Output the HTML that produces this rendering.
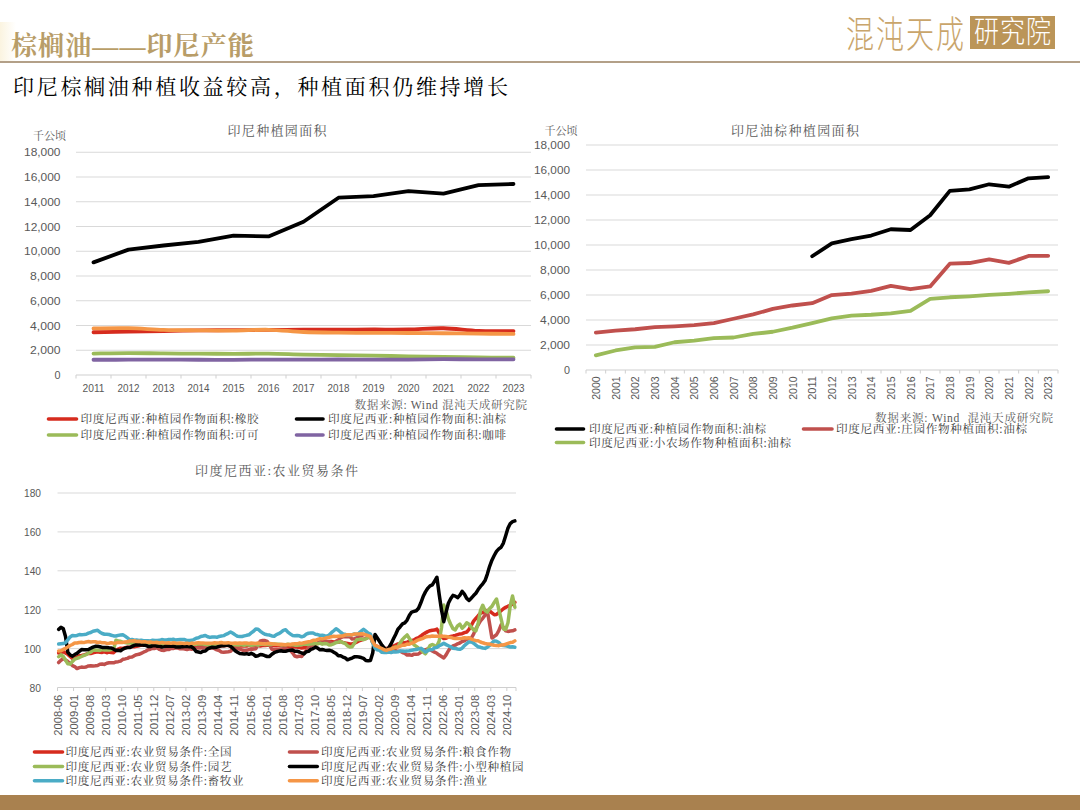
<!DOCTYPE html>
<html lang="zh-CN"><head><meta charset="utf-8"><title>棕榈油——印尼产能</title>
<style>
html,body{margin:0;padding:0;background:#fff;}
body{width:1080px;height:810px;position:relative;overflow:hidden;font-family:"Liberation Serif","Noto Serif CJK SC",serif;}
.hd{position:absolute;left:0;top:22px;width:16px;height:39px;background:linear-gradient(90deg,#fbf4e0 0,#ffffff 16px);}
.title{position:absolute;left:11px;top:30px;font-size:26px;line-height:34px;font-weight:700;color:#b89d68;letter-spacing:1.1px;white-space:nowrap;}
.rule{position:absolute;left:0;top:60.5px;width:1080px;height:2.4px;background:#b3a088;}
.sub{position:absolute;left:13px;top:71.5px;font-size:21px;line-height:30px;color:#000;letter-spacing:2.7px;white-space:nowrap;}
.logo1{position:absolute;left:846px;top:15.5px;width:120px;height:40px;font-size:28px;line-height:40px;color:#c9a56b;font-weight:300;letter-spacing:2px;white-space:nowrap;transform:scaleY(1.32);font-family:"Liberation Sans","Noto Sans CJK SC",sans-serif;transform-origin:50% 50%;}
.logo2{position:absolute;left:970px;top:15.5px;width:85px;height:33.5px;background:#bb9558;color:#fff;font-size:25px;line-height:33px;text-align:center;font-weight:300;letter-spacing:1px;white-space:nowrap;font-family:"Liberation Sans","Noto Sans CJK SC",sans-serif;}
.logo2 span{display:inline-block;transform:scaleY(1.18);transform-origin:50% 52%;margin-left:1px;}
.ft{position:absolute;left:0;top:795px;width:1080px;height:15px;background:#a9814f;}
svg{position:absolute;left:0;top:0;}
</style></head><body>
<div class="hd"></div>
<div class="title">棕榈油——印尼产能</div>
<div class="rule"></div>
<div class="sub">印尼棕榈油种植收益较高，种植面积仍维持增长</div>
<div class="logo1">混沌天成</div>
<div class="logo2"><span>研究院</span></div>
<svg width="1080" height="810" viewBox="0 0 1080 810">
<line x1="76" y1="350.25" x2="531" y2="350.25" stroke="#d9d9d9" stroke-width="1"/>
<line x1="76" y1="325.5" x2="531" y2="325.5" stroke="#d9d9d9" stroke-width="1"/>
<line x1="76" y1="300.75" x2="531" y2="300.75" stroke="#d9d9d9" stroke-width="1"/>
<line x1="76" y1="276.0" x2="531" y2="276.0" stroke="#d9d9d9" stroke-width="1"/>
<line x1="76" y1="251.25" x2="531" y2="251.25" stroke="#d9d9d9" stroke-width="1"/>
<line x1="76" y1="226.5" x2="531" y2="226.5" stroke="#d9d9d9" stroke-width="1"/>
<line x1="76" y1="201.75" x2="531" y2="201.75" stroke="#d9d9d9" stroke-width="1"/>
<line x1="76" y1="177.0" x2="531" y2="177.0" stroke="#d9d9d9" stroke-width="1"/>
<line x1="76" y1="152.25" x2="531" y2="152.25" stroke="#d9d9d9" stroke-width="1"/>
<line x1="76" y1="375" x2="531" y2="375" stroke="#cfcfcf" stroke-width="1"/>
<line x1="76.0" y1="375" x2="76.0" y2="378.5" stroke="#cfcfcf" stroke-width="1"/>
<line x1="111.0" y1="375" x2="111.0" y2="378.5" stroke="#cfcfcf" stroke-width="1"/>
<line x1="146.0" y1="375" x2="146.0" y2="378.5" stroke="#cfcfcf" stroke-width="1"/>
<line x1="181.0" y1="375" x2="181.0" y2="378.5" stroke="#cfcfcf" stroke-width="1"/>
<line x1="216.0" y1="375" x2="216.0" y2="378.5" stroke="#cfcfcf" stroke-width="1"/>
<line x1="251.0" y1="375" x2="251.0" y2="378.5" stroke="#cfcfcf" stroke-width="1"/>
<line x1="286.0" y1="375" x2="286.0" y2="378.5" stroke="#cfcfcf" stroke-width="1"/>
<line x1="321.0" y1="375" x2="321.0" y2="378.5" stroke="#cfcfcf" stroke-width="1"/>
<line x1="356.0" y1="375" x2="356.0" y2="378.5" stroke="#cfcfcf" stroke-width="1"/>
<line x1="391.0" y1="375" x2="391.0" y2="378.5" stroke="#cfcfcf" stroke-width="1"/>
<line x1="426.0" y1="375" x2="426.0" y2="378.5" stroke="#cfcfcf" stroke-width="1"/>
<line x1="461.0" y1="375" x2="461.0" y2="378.5" stroke="#cfcfcf" stroke-width="1"/>
<line x1="496.0" y1="375" x2="496.0" y2="378.5" stroke="#cfcfcf" stroke-width="1"/>
<line x1="531.0" y1="375" x2="531.0" y2="378.5" stroke="#cfcfcf" stroke-width="1"/>
<text x="60.5" y="379.0" font-size="11" text-anchor="end" font-family='"Liberation Sans","Noto Sans CJK SC",sans-serif' fill="#595959" textLength="6" lengthAdjust="spacingAndGlyphs">0</text>
<text x="60.5" y="354.25" font-size="11" text-anchor="end" font-family='"Liberation Sans","Noto Sans CJK SC",sans-serif' fill="#595959" textLength="30.5" lengthAdjust="spacingAndGlyphs">2,000</text>
<text x="60.5" y="329.5" font-size="11" text-anchor="end" font-family='"Liberation Sans","Noto Sans CJK SC",sans-serif' fill="#595959" textLength="30.5" lengthAdjust="spacingAndGlyphs">4,000</text>
<text x="60.5" y="304.75" font-size="11" text-anchor="end" font-family='"Liberation Sans","Noto Sans CJK SC",sans-serif' fill="#595959" textLength="30.5" lengthAdjust="spacingAndGlyphs">6,000</text>
<text x="60.5" y="280.0" font-size="11" text-anchor="end" font-family='"Liberation Sans","Noto Sans CJK SC",sans-serif' fill="#595959" textLength="30.5" lengthAdjust="spacingAndGlyphs">8,000</text>
<text x="60.5" y="255.25" font-size="11" text-anchor="end" font-family='"Liberation Sans","Noto Sans CJK SC",sans-serif' fill="#595959" textLength="36.5" lengthAdjust="spacingAndGlyphs">10,000</text>
<text x="60.5" y="230.5" font-size="11" text-anchor="end" font-family='"Liberation Sans","Noto Sans CJK SC",sans-serif' fill="#595959" textLength="36.5" lengthAdjust="spacingAndGlyphs">12,000</text>
<text x="60.5" y="205.75" font-size="11" text-anchor="end" font-family='"Liberation Sans","Noto Sans CJK SC",sans-serif' fill="#595959" textLength="36.5" lengthAdjust="spacingAndGlyphs">14,000</text>
<text x="60.5" y="181.0" font-size="11" text-anchor="end" font-family='"Liberation Sans","Noto Sans CJK SC",sans-serif' fill="#595959" textLength="36.5" lengthAdjust="spacingAndGlyphs">16,000</text>
<text x="60.5" y="156.25" font-size="11" text-anchor="end" font-family='"Liberation Sans","Noto Sans CJK SC",sans-serif' fill="#595959" textLength="36.5" lengthAdjust="spacingAndGlyphs">18,000</text>
<text x="93.5" y="392" font-size="11" text-anchor="middle" font-family='"Liberation Sans","Noto Sans CJK SC",sans-serif' fill="#595959" textLength="22" lengthAdjust="spacingAndGlyphs">2011</text>
<text x="128.5" y="392" font-size="11" text-anchor="middle" font-family='"Liberation Sans","Noto Sans CJK SC",sans-serif' fill="#595959" textLength="22" lengthAdjust="spacingAndGlyphs">2012</text>
<text x="163.5" y="392" font-size="11" text-anchor="middle" font-family='"Liberation Sans","Noto Sans CJK SC",sans-serif' fill="#595959" textLength="22" lengthAdjust="spacingAndGlyphs">2013</text>
<text x="198.5" y="392" font-size="11" text-anchor="middle" font-family='"Liberation Sans","Noto Sans CJK SC",sans-serif' fill="#595959" textLength="22" lengthAdjust="spacingAndGlyphs">2014</text>
<text x="233.5" y="392" font-size="11" text-anchor="middle" font-family='"Liberation Sans","Noto Sans CJK SC",sans-serif' fill="#595959" textLength="22" lengthAdjust="spacingAndGlyphs">2015</text>
<text x="268.5" y="392" font-size="11" text-anchor="middle" font-family='"Liberation Sans","Noto Sans CJK SC",sans-serif' fill="#595959" textLength="22" lengthAdjust="spacingAndGlyphs">2016</text>
<text x="303.5" y="392" font-size="11" text-anchor="middle" font-family='"Liberation Sans","Noto Sans CJK SC",sans-serif' fill="#595959" textLength="22" lengthAdjust="spacingAndGlyphs">2017</text>
<text x="338.5" y="392" font-size="11" text-anchor="middle" font-family='"Liberation Sans","Noto Sans CJK SC",sans-serif' fill="#595959" textLength="22" lengthAdjust="spacingAndGlyphs">2018</text>
<text x="373.5" y="392" font-size="11" text-anchor="middle" font-family='"Liberation Sans","Noto Sans CJK SC",sans-serif' fill="#595959" textLength="22" lengthAdjust="spacingAndGlyphs">2019</text>
<text x="408.5" y="392" font-size="11" text-anchor="middle" font-family='"Liberation Sans","Noto Sans CJK SC",sans-serif' fill="#595959" textLength="22" lengthAdjust="spacingAndGlyphs">2020</text>
<text x="443.5" y="392" font-size="11" text-anchor="middle" font-family='"Liberation Sans","Noto Sans CJK SC",sans-serif' fill="#595959" textLength="22" lengthAdjust="spacingAndGlyphs">2021</text>
<text x="478.5" y="392" font-size="11" text-anchor="middle" font-family='"Liberation Sans","Noto Sans CJK SC",sans-serif' fill="#595959" textLength="22" lengthAdjust="spacingAndGlyphs">2022</text>
<text x="513.5" y="392" font-size="11" text-anchor="middle" font-family='"Liberation Sans","Noto Sans CJK SC",sans-serif' fill="#595959" textLength="22" lengthAdjust="spacingAndGlyphs">2023</text>
<text x="33" y="140" font-size="11" text-anchor="start" font-family='"Liberation Serif","Noto Serif CJK SC",serif' fill="#595959" textLength="33" lengthAdjust="spacing">千公顷</text>
<text x="227.5" y="134.5" font-size="13" text-anchor="start" font-family='"Liberation Serif","Noto Serif CJK SC",serif' fill="#595959" textLength="99" lengthAdjust="spacing">印尼种植园面积</text>
<path d="M93.50,332.23 C99.33,332.13 116.83,331.82 128.50,331.61 C140.17,331.41 151.83,331.20 163.50,330.99 C175.17,330.79 186.83,330.51 198.50,330.38 C210.17,330.24 221.83,330.26 233.50,330.19 C245.17,330.12 256.83,330.05 268.50,329.97 C280.17,329.89 291.83,329.79 303.50,329.72 C315.17,329.65 326.83,329.61 338.50,329.57 C350.17,329.54 361.83,329.53 373.50,329.51 C385.17,329.49 396.83,329.65 408.50,329.45 C420.17,329.24 431.83,328.02 443.50,328.27 C455.17,328.52 466.83,330.48 478.50,330.94 C490.17,331.41 507.67,331.05 513.50,331.07" fill="none" stroke="#d62b1e" stroke-width="3.8" stroke-linecap="round" stroke-linejoin="round"/>
<polyline points="93.50,262.36 128.50,249.60 163.50,245.50 198.50,241.91 233.50,235.66 268.50,236.39 303.50,221.76 338.50,197.72 373.50,196.11 408.50,191.13 443.50,193.55 478.50,185.19 513.50,183.99" fill="none" stroke="#000" stroke-width="3.8" stroke-linecap="round" stroke-linejoin="round"/>
<path d="M93.50,353.55 C99.33,353.47 116.83,353.06 128.50,353.05 C140.17,353.03 151.83,353.36 163.50,353.46 C175.17,353.55 186.83,353.56 198.50,353.63 C210.17,353.69 221.83,353.84 233.50,353.85 C245.17,353.86 256.83,353.59 268.50,353.70 C280.17,353.82 291.83,354.32 303.50,354.54 C315.17,354.77 326.83,354.87 338.50,355.06 C350.17,355.25 361.83,355.47 373.50,355.68 C385.17,355.89 396.83,356.12 408.50,356.33 C420.17,356.53 431.83,356.74 443.50,356.92 C455.17,357.10 466.83,357.28 478.50,357.42 C490.17,357.55 507.67,357.69 513.50,357.75" fill="none" stroke="#9bbb59" stroke-width="3.8" stroke-linecap="round" stroke-linejoin="round"/>
<path d="M93.50,359.73 C99.33,359.73 116.83,359.73 128.50,359.72 C140.17,359.70 151.83,359.62 163.50,359.63 C175.17,359.64 186.83,359.74 198.50,359.77 C210.17,359.79 221.83,359.81 233.50,359.78 C245.17,359.75 256.83,359.59 268.50,359.57 C280.17,359.55 291.83,359.68 303.50,359.67 C315.17,359.65 326.83,359.51 338.50,359.49 C350.17,359.48 361.83,359.59 373.50,359.59 C385.17,359.60 396.83,359.60 408.50,359.53 C420.17,359.46 431.83,359.21 443.50,359.17 C455.17,359.14 466.83,359.31 478.50,359.33 C490.17,359.36 507.67,359.31 513.50,359.31" fill="none" stroke="#8064a2" stroke-width="3.8" stroke-linecap="round" stroke-linejoin="round"/>
<path d="M93.50,328.37 C99.33,328.34 116.83,327.96 128.50,328.20 C140.17,328.43 151.83,329.43 163.50,329.78 C175.17,330.14 186.83,330.19 198.50,330.33 C210.17,330.47 221.83,330.71 233.50,330.62 C245.17,330.53 256.83,329.56 268.50,329.79 C280.17,330.03 291.83,331.53 303.50,332.02 C315.17,332.51 326.83,332.57 338.50,332.71 C350.17,332.86 361.83,332.86 373.50,332.91 C385.17,332.96 396.83,332.97 408.50,333.02 C420.17,333.08 431.83,333.14 443.50,333.25 C455.17,333.35 466.83,333.56 478.50,333.67 C490.17,333.78 507.67,333.87 513.50,333.92" fill="none" stroke="#f59646" stroke-width="3.8" stroke-linecap="round" stroke-linejoin="round"/>
<text x="527" y="408.7" font-size="11.6" text-anchor="end" font-family='"Liberation Serif","Noto Serif CJK SC",serif' fill="#595959" textLength="172.5" lengthAdjust="spacing" xml:space="preserve">数据来源: Wind 混沌天成研究院</text>
<line x1="48.5" y1="419" x2="76.5" y2="419" stroke="#d62b1e" stroke-width="3.6" stroke-linecap="round"/>
<text x="80.5" y="423.1" font-size="11.6" text-anchor="start" font-family='"Liberation Serif","Noto Serif CJK SC",serif' fill="#404040" textLength="178" lengthAdjust="spacing">印度尼西亚:种植园作物面积:橡胶</text>
<line x1="48.5" y1="435" x2="76.5" y2="435" stroke="#9bbb59" stroke-width="3.6" stroke-linecap="round"/>
<text x="80.5" y="439.1" font-size="11.6" text-anchor="start" font-family='"Liberation Serif","Noto Serif CJK SC",serif' fill="#404040" textLength="178" lengthAdjust="spacing">印度尼西亚:种植园作物面积:可可</text>
<line x1="296.5" y1="419" x2="323.0" y2="419" stroke="#000" stroke-width="3.6" stroke-linecap="round"/>
<text x="328" y="423.1" font-size="11.6" text-anchor="start" font-family='"Liberation Serif","Noto Serif CJK SC",serif' fill="#404040" textLength="178" lengthAdjust="spacing">印度尼西亚:种植园作物面积:油棕</text>
<line x1="296.5" y1="435" x2="323.0" y2="435" stroke="#8064a2" stroke-width="3.6" stroke-linecap="round"/>
<text x="328" y="439.1" font-size="11.6" text-anchor="start" font-family='"Liberation Serif","Noto Serif CJK SC",serif' fill="#404040" textLength="178" lengthAdjust="spacing">印度尼西亚:种植园作物面积:咖啡</text>
<line x1="586" y1="345.0" x2="1058" y2="345.0" stroke="#d9d9d9" stroke-width="1"/>
<line x1="586" y1="320.0" x2="1058" y2="320.0" stroke="#d9d9d9" stroke-width="1"/>
<line x1="586" y1="295.0" x2="1058" y2="295.0" stroke="#d9d9d9" stroke-width="1"/>
<line x1="586" y1="270.0" x2="1058" y2="270.0" stroke="#d9d9d9" stroke-width="1"/>
<line x1="586" y1="245.0" x2="1058" y2="245.0" stroke="#d9d9d9" stroke-width="1"/>
<line x1="586" y1="220.0" x2="1058" y2="220.0" stroke="#d9d9d9" stroke-width="1"/>
<line x1="586" y1="195.0" x2="1058" y2="195.0" stroke="#d9d9d9" stroke-width="1"/>
<line x1="586" y1="170.0" x2="1058" y2="170.0" stroke="#d9d9d9" stroke-width="1"/>
<line x1="586" y1="145.0" x2="1058" y2="145.0" stroke="#d9d9d9" stroke-width="1"/>
<line x1="586" y1="370" x2="1058" y2="370" stroke="#cfcfcf" stroke-width="1"/>
<line x1="586.0" y1="370" x2="586.0" y2="373.5" stroke="#cfcfcf" stroke-width="1"/>
<line x1="605.6666666666666" y1="370" x2="605.6666666666666" y2="373.5" stroke="#cfcfcf" stroke-width="1"/>
<line x1="625.3333333333334" y1="370" x2="625.3333333333334" y2="373.5" stroke="#cfcfcf" stroke-width="1"/>
<line x1="645.0" y1="370" x2="645.0" y2="373.5" stroke="#cfcfcf" stroke-width="1"/>
<line x1="664.6666666666666" y1="370" x2="664.6666666666666" y2="373.5" stroke="#cfcfcf" stroke-width="1"/>
<line x1="684.3333333333334" y1="370" x2="684.3333333333334" y2="373.5" stroke="#cfcfcf" stroke-width="1"/>
<line x1="704.0" y1="370" x2="704.0" y2="373.5" stroke="#cfcfcf" stroke-width="1"/>
<line x1="723.6666666666667" y1="370" x2="723.6666666666667" y2="373.5" stroke="#cfcfcf" stroke-width="1"/>
<line x1="743.3333333333334" y1="370" x2="743.3333333333334" y2="373.5" stroke="#cfcfcf" stroke-width="1"/>
<line x1="763.0" y1="370" x2="763.0" y2="373.5" stroke="#cfcfcf" stroke-width="1"/>
<line x1="782.6666666666667" y1="370" x2="782.6666666666667" y2="373.5" stroke="#cfcfcf" stroke-width="1"/>
<line x1="802.3333333333334" y1="370" x2="802.3333333333334" y2="373.5" stroke="#cfcfcf" stroke-width="1"/>
<line x1="822.0" y1="370" x2="822.0" y2="373.5" stroke="#cfcfcf" stroke-width="1"/>
<line x1="841.6666666666667" y1="370" x2="841.6666666666667" y2="373.5" stroke="#cfcfcf" stroke-width="1"/>
<line x1="861.3333333333334" y1="370" x2="861.3333333333334" y2="373.5" stroke="#cfcfcf" stroke-width="1"/>
<line x1="881.0" y1="370" x2="881.0" y2="373.5" stroke="#cfcfcf" stroke-width="1"/>
<line x1="900.6666666666667" y1="370" x2="900.6666666666667" y2="373.5" stroke="#cfcfcf" stroke-width="1"/>
<line x1="920.3333333333334" y1="370" x2="920.3333333333334" y2="373.5" stroke="#cfcfcf" stroke-width="1"/>
<line x1="940.0" y1="370" x2="940.0" y2="373.5" stroke="#cfcfcf" stroke-width="1"/>
<line x1="959.6666666666667" y1="370" x2="959.6666666666667" y2="373.5" stroke="#cfcfcf" stroke-width="1"/>
<line x1="979.3333333333334" y1="370" x2="979.3333333333334" y2="373.5" stroke="#cfcfcf" stroke-width="1"/>
<line x1="999.0" y1="370" x2="999.0" y2="373.5" stroke="#cfcfcf" stroke-width="1"/>
<line x1="1018.6666666666667" y1="370" x2="1018.6666666666667" y2="373.5" stroke="#cfcfcf" stroke-width="1"/>
<line x1="1038.3333333333335" y1="370" x2="1038.3333333333335" y2="373.5" stroke="#cfcfcf" stroke-width="1"/>
<line x1="1058.0" y1="370" x2="1058.0" y2="373.5" stroke="#cfcfcf" stroke-width="1"/>
<text x="570" y="374.0" font-size="11" text-anchor="end" font-family='"Liberation Sans","Noto Sans CJK SC",sans-serif' fill="#595959" textLength="6" lengthAdjust="spacingAndGlyphs">0</text>
<text x="570" y="349.0" font-size="11" text-anchor="end" font-family='"Liberation Sans","Noto Sans CJK SC",sans-serif' fill="#595959" textLength="30" lengthAdjust="spacingAndGlyphs">2,000</text>
<text x="570" y="324.0" font-size="11" text-anchor="end" font-family='"Liberation Sans","Noto Sans CJK SC",sans-serif' fill="#595959" textLength="30" lengthAdjust="spacingAndGlyphs">4,000</text>
<text x="570" y="299.0" font-size="11" text-anchor="end" font-family='"Liberation Sans","Noto Sans CJK SC",sans-serif' fill="#595959" textLength="30" lengthAdjust="spacingAndGlyphs">6,000</text>
<text x="570" y="274.0" font-size="11" text-anchor="end" font-family='"Liberation Sans","Noto Sans CJK SC",sans-serif' fill="#595959" textLength="30" lengthAdjust="spacingAndGlyphs">8,000</text>
<text x="570" y="249.0" font-size="11" text-anchor="end" font-family='"Liberation Sans","Noto Sans CJK SC",sans-serif' fill="#595959" textLength="36" lengthAdjust="spacingAndGlyphs">10,000</text>
<text x="570" y="224.0" font-size="11" text-anchor="end" font-family='"Liberation Sans","Noto Sans CJK SC",sans-serif' fill="#595959" textLength="36" lengthAdjust="spacingAndGlyphs">12,000</text>
<text x="570" y="199.0" font-size="11" text-anchor="end" font-family='"Liberation Sans","Noto Sans CJK SC",sans-serif' fill="#595959" textLength="36" lengthAdjust="spacingAndGlyphs">14,000</text>
<text x="570" y="174.0" font-size="11" text-anchor="end" font-family='"Liberation Sans","Noto Sans CJK SC",sans-serif' fill="#595959" textLength="36" lengthAdjust="spacingAndGlyphs">16,000</text>
<text x="570" y="149.0" font-size="11" text-anchor="end" font-family='"Liberation Sans","Noto Sans CJK SC",sans-serif' fill="#595959" textLength="36" lengthAdjust="spacingAndGlyphs">18,000</text>
<text transform="translate(595.83,388) rotate(-90)" x="0" y="4" font-size="11" text-anchor="middle" font-family='"Liberation Sans","Noto Sans CJK SC",sans-serif' fill="#595959" textLength="23.5" lengthAdjust="spacingAndGlyphs">2000</text>
<text transform="translate(615.50,388) rotate(-90)" x="0" y="4" font-size="11" text-anchor="middle" font-family='"Liberation Sans","Noto Sans CJK SC",sans-serif' fill="#595959" textLength="23.5" lengthAdjust="spacingAndGlyphs">2001</text>
<text transform="translate(635.17,388) rotate(-90)" x="0" y="4" font-size="11" text-anchor="middle" font-family='"Liberation Sans","Noto Sans CJK SC",sans-serif' fill="#595959" textLength="23.5" lengthAdjust="spacingAndGlyphs">2002</text>
<text transform="translate(654.83,388) rotate(-90)" x="0" y="4" font-size="11" text-anchor="middle" font-family='"Liberation Sans","Noto Sans CJK SC",sans-serif' fill="#595959" textLength="23.5" lengthAdjust="spacingAndGlyphs">2003</text>
<text transform="translate(674.50,388) rotate(-90)" x="0" y="4" font-size="11" text-anchor="middle" font-family='"Liberation Sans","Noto Sans CJK SC",sans-serif' fill="#595959" textLength="23.5" lengthAdjust="spacingAndGlyphs">2004</text>
<text transform="translate(694.17,388) rotate(-90)" x="0" y="4" font-size="11" text-anchor="middle" font-family='"Liberation Sans","Noto Sans CJK SC",sans-serif' fill="#595959" textLength="23.5" lengthAdjust="spacingAndGlyphs">2005</text>
<text transform="translate(713.83,388) rotate(-90)" x="0" y="4" font-size="11" text-anchor="middle" font-family='"Liberation Sans","Noto Sans CJK SC",sans-serif' fill="#595959" textLength="23.5" lengthAdjust="spacingAndGlyphs">2006</text>
<text transform="translate(733.50,388) rotate(-90)" x="0" y="4" font-size="11" text-anchor="middle" font-family='"Liberation Sans","Noto Sans CJK SC",sans-serif' fill="#595959" textLength="23.5" lengthAdjust="spacingAndGlyphs">2007</text>
<text transform="translate(753.17,388) rotate(-90)" x="0" y="4" font-size="11" text-anchor="middle" font-family='"Liberation Sans","Noto Sans CJK SC",sans-serif' fill="#595959" textLength="23.5" lengthAdjust="spacingAndGlyphs">2008</text>
<text transform="translate(772.83,388) rotate(-90)" x="0" y="4" font-size="11" text-anchor="middle" font-family='"Liberation Sans","Noto Sans CJK SC",sans-serif' fill="#595959" textLength="23.5" lengthAdjust="spacingAndGlyphs">2009</text>
<text transform="translate(792.50,388) rotate(-90)" x="0" y="4" font-size="11" text-anchor="middle" font-family='"Liberation Sans","Noto Sans CJK SC",sans-serif' fill="#595959" textLength="23.5" lengthAdjust="spacingAndGlyphs">2010</text>
<text transform="translate(812.17,388) rotate(-90)" x="0" y="4" font-size="11" text-anchor="middle" font-family='"Liberation Sans","Noto Sans CJK SC",sans-serif' fill="#595959" textLength="23.5" lengthAdjust="spacingAndGlyphs">2011</text>
<text transform="translate(831.83,388) rotate(-90)" x="0" y="4" font-size="11" text-anchor="middle" font-family='"Liberation Sans","Noto Sans CJK SC",sans-serif' fill="#595959" textLength="23.5" lengthAdjust="spacingAndGlyphs">2012</text>
<text transform="translate(851.50,388) rotate(-90)" x="0" y="4" font-size="11" text-anchor="middle" font-family='"Liberation Sans","Noto Sans CJK SC",sans-serif' fill="#595959" textLength="23.5" lengthAdjust="spacingAndGlyphs">2013</text>
<text transform="translate(871.17,388) rotate(-90)" x="0" y="4" font-size="11" text-anchor="middle" font-family='"Liberation Sans","Noto Sans CJK SC",sans-serif' fill="#595959" textLength="23.5" lengthAdjust="spacingAndGlyphs">2014</text>
<text transform="translate(890.83,388) rotate(-90)" x="0" y="4" font-size="11" text-anchor="middle" font-family='"Liberation Sans","Noto Sans CJK SC",sans-serif' fill="#595959" textLength="23.5" lengthAdjust="spacingAndGlyphs">2015</text>
<text transform="translate(910.50,388) rotate(-90)" x="0" y="4" font-size="11" text-anchor="middle" font-family='"Liberation Sans","Noto Sans CJK SC",sans-serif' fill="#595959" textLength="23.5" lengthAdjust="spacingAndGlyphs">2016</text>
<text transform="translate(930.17,388) rotate(-90)" x="0" y="4" font-size="11" text-anchor="middle" font-family='"Liberation Sans","Noto Sans CJK SC",sans-serif' fill="#595959" textLength="23.5" lengthAdjust="spacingAndGlyphs">2017</text>
<text transform="translate(949.83,388) rotate(-90)" x="0" y="4" font-size="11" text-anchor="middle" font-family='"Liberation Sans","Noto Sans CJK SC",sans-serif' fill="#595959" textLength="23.5" lengthAdjust="spacingAndGlyphs">2018</text>
<text transform="translate(969.50,388) rotate(-90)" x="0" y="4" font-size="11" text-anchor="middle" font-family='"Liberation Sans","Noto Sans CJK SC",sans-serif' fill="#595959" textLength="23.5" lengthAdjust="spacingAndGlyphs">2019</text>
<text transform="translate(989.17,388) rotate(-90)" x="0" y="4" font-size="11" text-anchor="middle" font-family='"Liberation Sans","Noto Sans CJK SC",sans-serif' fill="#595959" textLength="23.5" lengthAdjust="spacingAndGlyphs">2020</text>
<text transform="translate(1008.83,388) rotate(-90)" x="0" y="4" font-size="11" text-anchor="middle" font-family='"Liberation Sans","Noto Sans CJK SC",sans-serif' fill="#595959" textLength="23.5" lengthAdjust="spacingAndGlyphs">2021</text>
<text transform="translate(1028.50,388) rotate(-90)" x="0" y="4" font-size="11" text-anchor="middle" font-family='"Liberation Sans","Noto Sans CJK SC",sans-serif' fill="#595959" textLength="23.5" lengthAdjust="spacingAndGlyphs">2022</text>
<text transform="translate(1048.17,388) rotate(-90)" x="0" y="4" font-size="11" text-anchor="middle" font-family='"Liberation Sans","Noto Sans CJK SC",sans-serif' fill="#595959" textLength="23.5" lengthAdjust="spacingAndGlyphs">2023</text>
<text x="544.5" y="134.5" font-size="11" text-anchor="start" font-family='"Liberation Serif","Noto Serif CJK SC",serif' fill="#595959" textLength="33" lengthAdjust="spacing">千公顷</text>
<text x="731" y="134.5" font-size="13" text-anchor="start" font-family='"Liberation Serif","Noto Serif CJK SC",serif' fill="#595959" textLength="128" lengthAdjust="spacing">印尼油棕种植园面积</text>
<polyline points="812.17,256.23 831.83,243.34 851.50,239.19 871.17,235.56 890.83,229.25 910.50,229.99 930.17,215.21 949.83,190.92 969.50,189.30 989.17,184.28 1008.83,186.71 1028.50,178.28 1048.17,177.06" fill="none" stroke="#000" stroke-width="3.8" stroke-linecap="round" stroke-linejoin="round"/>
<polyline points="595.83,332.61 615.50,330.60 635.17,329.26 654.83,327.14 674.50,326.29 694.17,325.09 713.83,323.15 733.50,318.75 753.17,314.38 772.83,308.90 792.50,305.49 812.17,303.14 831.83,295.05 851.50,293.65 871.17,290.84 890.83,285.94 910.50,289.23 930.17,286.43 949.83,263.65 969.50,263.01 989.17,259.31 1008.83,262.89 1028.50,255.95 1048.17,255.81" fill="none" stroke="#c0504d" stroke-width="3.8" stroke-linecap="round" stroke-linejoin="round"/>
<polyline points="595.83,355.41 615.50,350.49 635.17,347.40 654.83,346.82 674.50,342.25 694.17,340.54 713.83,338.12 733.50,337.50 753.17,333.98 772.83,331.74 792.50,327.66 812.17,323.10 831.83,318.29 851.50,315.55 871.17,314.73 890.83,313.31 910.50,310.76 930.17,298.79 949.83,297.27 969.50,296.29 989.17,294.96 1008.83,293.82 1028.50,292.32 1048.17,291.25" fill="none" stroke="#9bbb59" stroke-width="3.8" stroke-linecap="round" stroke-linejoin="round"/>
<text x="1053" y="421.7" font-size="11.6" text-anchor="end" font-family='"Liberation Serif","Noto Serif CJK SC",serif' fill="#595959" textLength="178" lengthAdjust="spacing" xml:space="preserve">数据来源: Wind  混沌天成研究院</text>
<line x1="556.5" y1="429" x2="583.5" y2="429" stroke="#000" stroke-width="3.6" stroke-linecap="round"/>
<text x="589" y="433.1" font-size="11.6" text-anchor="start" font-family='"Liberation Serif","Noto Serif CJK SC",serif' fill="#404040" textLength="177" lengthAdjust="spacing">印度尼西亚:种植园作物面积:油棕</text>
<line x1="556.5" y1="442.5" x2="583.5" y2="442.5" stroke="#9bbb59" stroke-width="3.6" stroke-linecap="round"/>
<text x="589" y="446.6" font-size="11.6" text-anchor="start" font-family='"Liberation Serif","Noto Serif CJK SC",serif' fill="#404040" textLength="202" lengthAdjust="spacing">印度尼西亚:小农场作物种植面积:油棕</text>
<line x1="803.5" y1="429" x2="832.0" y2="429" stroke="#c0504d" stroke-width="3.6" stroke-linecap="round"/>
<text x="836" y="433.1" font-size="11.6" text-anchor="start" font-family='"Liberation Serif","Noto Serif CJK SC",serif' fill="#404040" textLength="191" lengthAdjust="spacing">印度尼西亚:庄园作物种植面积:油棕</text>
<line x1="57.5" y1="648.6" x2="516" y2="648.6" stroke="#d9d9d9" stroke-width="1"/>
<line x1="57.5" y1="609.7" x2="516" y2="609.7" stroke="#d9d9d9" stroke-width="1"/>
<line x1="57.5" y1="570.8" x2="516" y2="570.8" stroke="#d9d9d9" stroke-width="1"/>
<line x1="57.5" y1="531.9" x2="516" y2="531.9" stroke="#d9d9d9" stroke-width="1"/>
<line x1="57.5" y1="493.0" x2="516" y2="493.0" stroke="#d9d9d9" stroke-width="1"/>
<line x1="57.5" y1="687.5" x2="516" y2="687.5" stroke="#cfcfcf" stroke-width="1"/>
<line x1="57.5" y1="687.5" x2="57.5" y2="691.0" stroke="#cfcfcf" stroke-width="1"/>
<text transform="translate(57.95,715.2) rotate(-90)" x="0" y="4" font-size="11" text-anchor="middle" font-family='"Liberation Sans","Noto Sans CJK SC",sans-serif' fill="#595959" textLength="41" lengthAdjust="spacingAndGlyphs">2008-06</text>
<line x1="73.5475" y1="687.5" x2="73.5475" y2="691.0" stroke="#cfcfcf" stroke-width="1"/>
<text transform="translate(73.99,715.2) rotate(-90)" x="0" y="4" font-size="11" text-anchor="middle" font-family='"Liberation Sans","Noto Sans CJK SC",sans-serif' fill="#595959" textLength="41" lengthAdjust="spacingAndGlyphs">2009-01</text>
<line x1="89.595" y1="687.5" x2="89.595" y2="691.0" stroke="#cfcfcf" stroke-width="1"/>
<text transform="translate(90.04,715.2) rotate(-90)" x="0" y="4" font-size="11" text-anchor="middle" font-family='"Liberation Sans","Noto Sans CJK SC",sans-serif' fill="#595959" textLength="41" lengthAdjust="spacingAndGlyphs">2009-08</text>
<line x1="105.6425" y1="687.5" x2="105.6425" y2="691.0" stroke="#cfcfcf" stroke-width="1"/>
<text transform="translate(106.09,715.2) rotate(-90)" x="0" y="4" font-size="11" text-anchor="middle" font-family='"Liberation Sans","Noto Sans CJK SC",sans-serif' fill="#595959" textLength="41" lengthAdjust="spacingAndGlyphs">2010-03</text>
<line x1="121.69" y1="687.5" x2="121.69" y2="691.0" stroke="#cfcfcf" stroke-width="1"/>
<text transform="translate(122.14,715.2) rotate(-90)" x="0" y="4" font-size="11" text-anchor="middle" font-family='"Liberation Sans","Noto Sans CJK SC",sans-serif' fill="#595959" textLength="41" lengthAdjust="spacingAndGlyphs">2010-10</text>
<line x1="137.7375" y1="687.5" x2="137.7375" y2="691.0" stroke="#cfcfcf" stroke-width="1"/>
<text transform="translate(138.18,715.2) rotate(-90)" x="0" y="4" font-size="11" text-anchor="middle" font-family='"Liberation Sans","Noto Sans CJK SC",sans-serif' fill="#595959" textLength="41" lengthAdjust="spacingAndGlyphs">2011-05</text>
<line x1="153.785" y1="687.5" x2="153.785" y2="691.0" stroke="#cfcfcf" stroke-width="1"/>
<text transform="translate(154.23,715.2) rotate(-90)" x="0" y="4" font-size="11" text-anchor="middle" font-family='"Liberation Sans","Noto Sans CJK SC",sans-serif' fill="#595959" textLength="41" lengthAdjust="spacingAndGlyphs">2011-12</text>
<line x1="169.83249999999998" y1="687.5" x2="169.83249999999998" y2="691.0" stroke="#cfcfcf" stroke-width="1"/>
<text transform="translate(170.28,715.2) rotate(-90)" x="0" y="4" font-size="11" text-anchor="middle" font-family='"Liberation Sans","Noto Sans CJK SC",sans-serif' fill="#595959" textLength="41" lengthAdjust="spacingAndGlyphs">2012-07</text>
<line x1="185.88" y1="687.5" x2="185.88" y2="691.0" stroke="#cfcfcf" stroke-width="1"/>
<text transform="translate(186.33,715.2) rotate(-90)" x="0" y="4" font-size="11" text-anchor="middle" font-family='"Liberation Sans","Noto Sans CJK SC",sans-serif' fill="#595959" textLength="41" lengthAdjust="spacingAndGlyphs">2013-02</text>
<line x1="201.9275" y1="687.5" x2="201.9275" y2="691.0" stroke="#cfcfcf" stroke-width="1"/>
<text transform="translate(202.37,715.2) rotate(-90)" x="0" y="4" font-size="11" text-anchor="middle" font-family='"Liberation Sans","Noto Sans CJK SC",sans-serif' fill="#595959" textLength="41" lengthAdjust="spacingAndGlyphs">2013-09</text>
<line x1="217.975" y1="687.5" x2="217.975" y2="691.0" stroke="#cfcfcf" stroke-width="1"/>
<text transform="translate(218.42,715.2) rotate(-90)" x="0" y="4" font-size="11" text-anchor="middle" font-family='"Liberation Sans","Noto Sans CJK SC",sans-serif' fill="#595959" textLength="41" lengthAdjust="spacingAndGlyphs">2014-04</text>
<line x1="234.0225" y1="687.5" x2="234.0225" y2="691.0" stroke="#cfcfcf" stroke-width="1"/>
<text transform="translate(234.47,715.2) rotate(-90)" x="0" y="4" font-size="11" text-anchor="middle" font-family='"Liberation Sans","Noto Sans CJK SC",sans-serif' fill="#595959" textLength="41" lengthAdjust="spacingAndGlyphs">2014-11</text>
<line x1="250.07" y1="687.5" x2="250.07" y2="691.0" stroke="#cfcfcf" stroke-width="1"/>
<text transform="translate(250.52,715.2) rotate(-90)" x="0" y="4" font-size="11" text-anchor="middle" font-family='"Liberation Sans","Noto Sans CJK SC",sans-serif' fill="#595959" textLength="41" lengthAdjust="spacingAndGlyphs">2015-06</text>
<line x1="266.1175" y1="687.5" x2="266.1175" y2="691.0" stroke="#cfcfcf" stroke-width="1"/>
<text transform="translate(266.56,715.2) rotate(-90)" x="0" y="4" font-size="11" text-anchor="middle" font-family='"Liberation Sans","Noto Sans CJK SC",sans-serif' fill="#595959" textLength="41" lengthAdjust="spacingAndGlyphs">2016-01</text>
<line x1="282.16499999999996" y1="687.5" x2="282.16499999999996" y2="691.0" stroke="#cfcfcf" stroke-width="1"/>
<text transform="translate(282.61,715.2) rotate(-90)" x="0" y="4" font-size="11" text-anchor="middle" font-family='"Liberation Sans","Noto Sans CJK SC",sans-serif' fill="#595959" textLength="41" lengthAdjust="spacingAndGlyphs">2016-08</text>
<line x1="298.2125" y1="687.5" x2="298.2125" y2="691.0" stroke="#cfcfcf" stroke-width="1"/>
<text transform="translate(298.66,715.2) rotate(-90)" x="0" y="4" font-size="11" text-anchor="middle" font-family='"Liberation Sans","Noto Sans CJK SC",sans-serif' fill="#595959" textLength="41" lengthAdjust="spacingAndGlyphs">2017-03</text>
<line x1="314.26" y1="687.5" x2="314.26" y2="691.0" stroke="#cfcfcf" stroke-width="1"/>
<text transform="translate(314.71,715.2) rotate(-90)" x="0" y="4" font-size="11" text-anchor="middle" font-family='"Liberation Sans","Noto Sans CJK SC",sans-serif' fill="#595959" textLength="41" lengthAdjust="spacingAndGlyphs">2017-10</text>
<line x1="330.3075" y1="687.5" x2="330.3075" y2="691.0" stroke="#cfcfcf" stroke-width="1"/>
<text transform="translate(330.75,715.2) rotate(-90)" x="0" y="4" font-size="11" text-anchor="middle" font-family='"Liberation Sans","Noto Sans CJK SC",sans-serif' fill="#595959" textLength="41" lengthAdjust="spacingAndGlyphs">2018-05</text>
<line x1="346.355" y1="687.5" x2="346.355" y2="691.0" stroke="#cfcfcf" stroke-width="1"/>
<text transform="translate(346.80,715.2) rotate(-90)" x="0" y="4" font-size="11" text-anchor="middle" font-family='"Liberation Sans","Noto Sans CJK SC",sans-serif' fill="#595959" textLength="41" lengthAdjust="spacingAndGlyphs">2018-12</text>
<line x1="362.4025" y1="687.5" x2="362.4025" y2="691.0" stroke="#cfcfcf" stroke-width="1"/>
<text transform="translate(362.85,715.2) rotate(-90)" x="0" y="4" font-size="11" text-anchor="middle" font-family='"Liberation Sans","Noto Sans CJK SC",sans-serif' fill="#595959" textLength="41" lengthAdjust="spacingAndGlyphs">2019-07</text>
<line x1="378.45" y1="687.5" x2="378.45" y2="691.0" stroke="#cfcfcf" stroke-width="1"/>
<text transform="translate(378.90,715.2) rotate(-90)" x="0" y="4" font-size="11" text-anchor="middle" font-family='"Liberation Sans","Noto Sans CJK SC",sans-serif' fill="#595959" textLength="41" lengthAdjust="spacingAndGlyphs">2020-02</text>
<line x1="394.4975" y1="687.5" x2="394.4975" y2="691.0" stroke="#cfcfcf" stroke-width="1"/>
<text transform="translate(394.94,715.2) rotate(-90)" x="0" y="4" font-size="11" text-anchor="middle" font-family='"Liberation Sans","Noto Sans CJK SC",sans-serif' fill="#595959" textLength="41" lengthAdjust="spacingAndGlyphs">2020-09</text>
<line x1="410.545" y1="687.5" x2="410.545" y2="691.0" stroke="#cfcfcf" stroke-width="1"/>
<text transform="translate(410.99,715.2) rotate(-90)" x="0" y="4" font-size="11" text-anchor="middle" font-family='"Liberation Sans","Noto Sans CJK SC",sans-serif' fill="#595959" textLength="41" lengthAdjust="spacingAndGlyphs">2021-04</text>
<line x1="426.5925" y1="687.5" x2="426.5925" y2="691.0" stroke="#cfcfcf" stroke-width="1"/>
<text transform="translate(427.04,715.2) rotate(-90)" x="0" y="4" font-size="11" text-anchor="middle" font-family='"Liberation Sans","Noto Sans CJK SC",sans-serif' fill="#595959" textLength="41" lengthAdjust="spacingAndGlyphs">2021-11</text>
<line x1="442.64" y1="687.5" x2="442.64" y2="691.0" stroke="#cfcfcf" stroke-width="1"/>
<text transform="translate(443.09,715.2) rotate(-90)" x="0" y="4" font-size="11" text-anchor="middle" font-family='"Liberation Sans","Noto Sans CJK SC",sans-serif' fill="#595959" textLength="41" lengthAdjust="spacingAndGlyphs">2022-06</text>
<line x1="458.6875" y1="687.5" x2="458.6875" y2="691.0" stroke="#cfcfcf" stroke-width="1"/>
<text transform="translate(459.13,715.2) rotate(-90)" x="0" y="4" font-size="11" text-anchor="middle" font-family='"Liberation Sans","Noto Sans CJK SC",sans-serif' fill="#595959" textLength="41" lengthAdjust="spacingAndGlyphs">2023-01</text>
<line x1="474.735" y1="687.5" x2="474.735" y2="691.0" stroke="#cfcfcf" stroke-width="1"/>
<text transform="translate(475.18,715.2) rotate(-90)" x="0" y="4" font-size="11" text-anchor="middle" font-family='"Liberation Sans","Noto Sans CJK SC",sans-serif' fill="#595959" textLength="41" lengthAdjust="spacingAndGlyphs">2023-08</text>
<line x1="490.78249999999997" y1="687.5" x2="490.78249999999997" y2="691.0" stroke="#cfcfcf" stroke-width="1"/>
<text transform="translate(491.23,715.2) rotate(-90)" x="0" y="4" font-size="11" text-anchor="middle" font-family='"Liberation Sans","Noto Sans CJK SC",sans-serif' fill="#595959" textLength="41" lengthAdjust="spacingAndGlyphs">2024-03</text>
<line x1="506.83" y1="687.5" x2="506.83" y2="691.0" stroke="#cfcfcf" stroke-width="1"/>
<text transform="translate(507.28,715.2) rotate(-90)" x="0" y="4" font-size="11" text-anchor="middle" font-family='"Liberation Sans","Noto Sans CJK SC",sans-serif' fill="#595959" textLength="41" lengthAdjust="spacingAndGlyphs">2024-10</text>
<line x1="516" y1="687.5" x2="516" y2="691.0" stroke="#cfcfcf" stroke-width="1"/>
<text x="41" y="691.5" font-size="11" text-anchor="end" font-family='"Liberation Sans","Noto Sans CJK SC",sans-serif' fill="#595959" textLength="11.5" lengthAdjust="spacingAndGlyphs">80</text>
<text x="41" y="652.6" font-size="11" text-anchor="end" font-family='"Liberation Sans","Noto Sans CJK SC",sans-serif' fill="#595959" textLength="17" lengthAdjust="spacingAndGlyphs">100</text>
<text x="41" y="613.7" font-size="11" text-anchor="end" font-family='"Liberation Sans","Noto Sans CJK SC",sans-serif' fill="#595959" textLength="17" lengthAdjust="spacingAndGlyphs">120</text>
<text x="41" y="574.8" font-size="11" text-anchor="end" font-family='"Liberation Sans","Noto Sans CJK SC",sans-serif' fill="#595959" textLength="17" lengthAdjust="spacingAndGlyphs">140</text>
<text x="41" y="535.9" font-size="11" text-anchor="end" font-family='"Liberation Sans","Noto Sans CJK SC",sans-serif' fill="#595959" textLength="17" lengthAdjust="spacingAndGlyphs">160</text>
<text x="41" y="497.0" font-size="11" text-anchor="end" font-family='"Liberation Sans","Noto Sans CJK SC",sans-serif' fill="#595959" textLength="17" lengthAdjust="spacingAndGlyphs">180</text>
<text x="195" y="474.8" font-size="13" text-anchor="start" font-family='"Liberation Serif","Noto Serif CJK SC",serif' fill="#595959" textLength="163" lengthAdjust="spacing">印度尼西亚:农业贸易条件</text>
<polyline points="58.65,652.90 60.94,652.59 63.23,651.61 65.52,652.91 67.82,654.40 70.11,656.51 72.40,658.48 74.69,657.29 76.99,656.99 79.28,655.85 81.57,655.57 83.86,655.03 86.16,654.18 88.45,653.27 90.74,653.44 93.03,652.82 95.33,652.17 97.62,651.86 99.91,652.22 102.20,652.40 104.50,651.83 106.79,652.74 109.08,651.95 111.37,652.50 113.67,652.64 115.96,650.33 118.25,649.11 120.54,648.25 122.84,648.49 125.13,647.73 127.42,647.30 129.71,647.17 132.01,646.61 134.30,646.69 136.59,646.31 138.88,645.77 141.18,645.10 143.47,645.14 145.76,645.04 148.05,644.57 150.35,644.49 152.64,644.43 154.93,643.90 157.22,644.12 159.52,644.68 161.81,644.48 164.10,644.65 166.39,644.43 168.69,644.69 170.98,645.24 173.27,644.66 175.56,645.56 177.86,645.32 180.15,645.05 182.44,645.70 184.73,645.43 187.03,645.93 189.32,645.37 191.61,645.34 193.90,645.58 196.20,645.34 198.49,645.92 200.78,645.59 203.07,645.73 205.37,645.78 207.66,645.94 209.95,645.60 212.24,645.54 214.54,646.04 216.83,645.89 219.12,646.48 221.41,645.82 223.71,645.83 226.00,645.46 228.29,645.58 230.58,646.07 232.88,645.93 235.17,645.62 237.46,646.21 239.75,645.74 242.05,646.00 244.34,646.03 246.63,646.08 248.92,645.37 251.22,645.98 253.51,645.85 255.80,645.70 258.09,645.22 260.39,645.98 262.68,645.60 264.97,645.49 267.26,645.16 269.56,645.20 271.85,645.15 274.14,645.70 276.43,645.69 278.73,645.86 281.02,645.47 283.31,645.52 285.60,646.43 287.90,646.52 290.19,646.65 292.48,646.89 294.77,646.89 297.07,647.03 299.36,647.59 301.65,648.09 303.94,647.81 306.24,646.91 308.53,645.77 310.82,644.44 313.11,643.86 315.41,643.62 317.70,643.11 319.99,642.64 322.28,642.84 324.58,641.61 326.87,641.52 329.16,641.43 331.45,641.50 333.75,641.90 336.04,641.89 338.33,642.18 340.62,641.66 342.92,642.34 345.21,642.93 347.50,643.39 349.79,644.04 352.09,643.95 354.38,643.12 356.67,642.06 358.96,640.95 361.26,640.19 363.55,639.14 365.84,638.66 368.13,637.03 370.43,636.48 372.72,642.54 375.01,645.58 377.30,646.38 379.60,647.27 381.89,648.40 384.18,648.59 386.47,648.37 388.77,647.84 391.06,646.78 393.35,646.12 395.64,645.05 397.94,643.94 400.23,643.53 402.52,642.49 404.81,642.66 407.11,642.30 409.40,640.92 411.69,640.65 413.98,639.88 416.28,638.35 418.57,637.72 420.86,636.03 423.15,634.17 425.45,632.86 427.74,631.60 430.03,630.71 432.32,630.23 434.62,630.04 436.91,629.08 439.20,633.05 441.49,636.54 443.79,638.59 446.08,638.19 448.37,637.11 450.66,636.43 452.96,636.05 455.25,635.37 457.54,634.61 459.83,633.93 462.13,633.68 464.42,632.64 466.71,632.04 469.00,629.37 471.30,625.41 473.59,621.21 475.88,618.47 478.17,615.79 480.47,613.27 482.76,612.41 485.05,611.18 487.34,610.38 489.64,610.81 491.93,612.94 494.22,614.64 496.51,614.47 498.81,612.62 501.10,610.73 503.39,608.73 505.68,607.33 507.98,606.25 510.27,605.46 512.56,604.03 514.85,602.33" fill="none" stroke="#d62b1e" stroke-width="3.5" stroke-linecap="round" stroke-linejoin="round"/>
<polyline points="58.65,662.61 60.94,660.33 63.23,658.43 65.52,660.06 67.82,661.57 70.11,663.49 72.40,665.55 74.69,666.56 76.99,668.60 79.28,667.67 81.57,667.08 83.86,667.37 86.16,666.98 88.45,665.96 90.74,665.83 93.03,666.10 95.33,665.79 97.62,665.42 99.91,664.20 102.20,663.98 104.50,664.41 106.79,663.27 109.08,662.76 111.37,662.79 113.67,662.81 115.96,661.90 118.25,661.67 120.54,661.09 122.84,659.26 125.13,658.91 127.42,658.34 129.71,657.15 132.01,657.01 134.30,655.63 136.59,654.66 138.88,654.36 141.18,653.29 143.47,652.22 145.76,651.25 148.05,649.83 150.35,649.19 152.64,648.45 154.93,648.43 157.22,647.83 159.52,649.45 161.81,650.30 164.10,650.39 166.39,649.50 168.69,649.55 170.98,648.46 173.27,648.43 175.56,647.89 177.86,647.98 180.15,648.81 182.44,648.55 184.73,649.08 187.03,649.53 189.32,648.83 191.61,649.26 193.90,648.61 196.20,648.01 198.49,647.91 200.78,648.03 203.07,647.80 205.37,647.76 207.66,647.49 209.95,648.28 212.24,647.75 214.54,648.70 216.83,649.85 219.12,650.45 221.41,651.93 223.71,652.22 226.00,651.99 228.29,651.81 230.58,651.24 232.88,648.81 235.17,648.11 237.46,648.70 239.75,649.08 242.05,649.95 244.34,650.45 246.63,650.33 248.92,649.53 251.22,649.55 253.51,649.08 255.80,648.75 258.09,644.70 260.39,640.95 262.68,640.50 264.97,640.62 267.26,641.44 269.56,644.86 271.85,649.25 274.14,649.68 276.43,649.49 278.73,649.68 281.02,648.99 283.31,648.85 285.60,648.72 287.90,649.59 290.19,650.21 292.48,652.83 294.77,655.98 297.07,656.75 299.36,656.13 301.65,656.48 303.94,653.26 306.24,650.77 308.53,647.72 310.82,645.97 313.11,644.98 315.41,644.60 317.70,643.12 319.99,641.85 322.28,640.89 324.58,641.01 326.87,641.55 329.16,641.78 331.45,643.29 333.75,643.10 336.04,641.35 338.33,639.95 340.62,637.70 342.92,636.80 345.21,636.52 347.50,636.63 349.79,636.61 352.09,638.88 354.38,638.71 356.67,637.78 358.96,636.33 361.26,636.01 363.55,634.56 365.84,634.57 368.13,634.71 370.43,634.91 372.72,641.99 375.01,645.96 377.30,647.55 379.60,648.62 381.89,648.65 384.18,650.00 386.47,650.31 388.77,651.02 391.06,651.06 393.35,650.33 395.64,650.63 397.94,651.32 400.23,651.25 402.52,652.54 404.81,653.27 407.11,655.05 409.40,654.71 411.69,655.35 413.98,654.13 416.28,654.33 418.57,653.95 420.86,652.28 423.15,650.42 425.45,649.76 427.74,648.76 430.03,649.43 432.32,650.91 434.62,652.20 436.91,653.27 439.20,655.03 441.49,656.49 443.79,657.99 446.08,654.90 448.37,650.73 450.66,647.65 452.96,645.98 455.25,645.17 457.54,643.79 459.83,643.00 462.13,641.54 464.42,640.90 466.71,639.21 469.00,638.56 471.30,638.13 473.59,634.09 475.88,628.61 478.17,624.83 480.47,620.92 482.76,618.30 485.05,615.15 487.34,610.87 489.64,624.12 491.93,638.00 494.22,636.44 496.51,634.75 498.81,630.64 501.10,624.81 503.39,627.44 505.68,630.85 507.98,631.42 510.27,631.02 512.56,630.80 514.85,629.93" fill="none" stroke="#c0504d" stroke-width="3.5" stroke-linecap="round" stroke-linejoin="round"/>
<polyline points="58.65,656.72 60.94,654.75 63.23,656.51 65.52,660.19 67.82,663.86 70.11,664.11 72.40,661.53 74.69,659.22 76.99,658.40 79.28,657.50 81.57,656.50 83.86,655.36 86.16,654.58 88.45,653.10 90.74,652.16 93.03,650.20 95.33,650.02 97.62,650.34 99.91,650.52 102.20,649.50 104.50,650.10 106.79,649.88 109.08,650.12 111.37,649.51 113.67,649.23 115.96,640.23 118.25,641.10 120.54,641.27 122.84,642.37 125.13,642.59 127.42,643.11 129.71,642.86 132.01,643.39 134.30,643.52 136.59,643.31 138.88,643.50 141.18,643.20 143.47,643.37 145.76,643.21 148.05,643.41 150.35,643.44 152.64,643.35 154.93,644.02 157.22,644.19 159.52,643.51 161.81,644.56 164.10,643.95 166.39,644.11 168.69,644.86 170.98,644.00 173.27,643.99 175.56,644.36 177.86,644.29 180.15,644.26 182.44,645.10 184.73,644.65 187.03,644.62 189.32,644.17 191.61,644.15 193.90,644.07 196.20,644.29 198.49,643.87 200.78,644.06 203.07,643.99 205.37,644.47 207.66,644.72 209.95,644.70 212.24,644.53 214.54,644.93 216.83,644.17 219.12,644.59 221.41,644.61 223.71,644.71 226.00,644.74 228.29,645.06 230.58,645.66 232.88,644.69 235.17,644.71 237.46,644.96 239.75,644.88 242.05,644.70 244.34,645.35 246.63,644.53 248.92,645.06 251.22,645.23 253.51,644.96 255.80,644.38 258.09,644.96 260.39,644.29 262.68,643.98 264.97,644.50 267.26,644.59 269.56,644.44 271.85,644.16 274.14,644.03 276.43,644.20 278.73,644.20 281.02,644.90 283.31,644.85 285.60,644.75 287.90,644.22 290.19,644.76 292.48,644.49 294.77,645.17 297.07,645.14 299.36,644.93 301.65,644.49 303.94,644.37 306.24,644.16 308.53,644.39 310.82,643.90 313.11,643.73 315.41,643.50 317.70,643.89 319.99,643.18 322.28,644.19 324.58,643.47 326.87,643.71 329.16,644.98 331.45,644.66 333.75,643.82 336.04,642.62 338.33,642.20 340.62,641.39 342.92,642.75 345.21,643.43 347.50,645.84 349.79,646.95 352.09,646.75 354.38,643.32 356.67,639.84 358.96,639.47 361.26,638.99 363.55,639.68 365.84,638.75 368.13,637.67 370.43,636.92 372.72,642.67 375.01,646.20 377.30,647.45 379.60,648.18 381.89,648.32 384.18,649.08 386.47,649.38 388.77,649.12 391.06,648.44 393.35,648.02 395.64,646.96 397.94,646.68 400.23,642.64 402.52,639.38 404.81,637.06 407.11,634.94 409.40,638.63 411.69,641.85 413.98,644.77 416.28,646.35 418.57,648.20 420.86,649.55 423.15,652.09 425.45,653.80 427.74,649.60 430.03,645.67 432.32,644.49 434.62,645.66 436.91,646.04 439.20,641.03 441.49,627.75 443.79,605.07 446.08,610.46 448.37,618.93 450.66,624.28 452.96,628.63 455.25,629.89 457.54,625.79 459.83,624.12 462.13,628.22 464.42,626.07 466.71,622.80 469.00,624.33 471.30,627.05 473.59,629.93 475.88,630.88 478.17,623.15 480.47,610.54 482.76,605.27 485.05,610.60 487.34,612.07 489.64,608.52 491.93,606.40 494.22,602.42 496.51,598.99 498.81,609.26 501.10,618.96 503.39,628.93 505.68,629.48 507.98,622.69 510.27,605.40 512.56,596.02 514.85,607.23" fill="none" stroke="#9bbb59" stroke-width="3.5" stroke-linecap="round" stroke-linejoin="round"/>
<polyline points="58.65,629.32 60.94,627.38 63.23,628.52 65.52,636.41 67.82,652.30 70.11,654.98 72.40,656.15 74.69,654.58 76.99,653.35 79.28,651.43 81.57,649.57 83.86,649.83 86.16,649.68 88.45,649.50 90.74,648.22 93.03,647.10 95.33,646.33 97.62,646.25 99.91,646.70 102.20,647.39 104.50,647.58 106.79,647.55 109.08,647.82 111.37,647.96 113.67,649.14 115.96,650.51 118.25,650.31 120.54,650.74 122.84,649.03 125.13,648.11 127.42,647.54 129.71,647.60 132.01,646.44 134.30,645.36 136.59,644.78 138.88,645.02 141.18,644.72 143.47,645.13 145.76,645.30 148.05,646.39 150.35,646.47 152.64,645.78 154.93,645.66 157.22,646.24 159.52,646.20 161.81,646.97 164.10,646.61 166.39,646.07 168.69,646.28 170.98,646.24 173.27,646.10 175.56,646.95 177.86,647.11 180.15,647.06 182.44,646.63 184.73,646.50 187.03,646.30 189.32,646.66 191.61,646.85 193.90,648.72 196.20,651.57 198.49,651.98 200.78,652.59 203.07,651.24 205.37,650.99 207.66,648.89 209.95,647.91 212.24,647.26 214.54,647.39 216.83,647.18 219.12,646.38 221.41,645.70 223.71,645.77 226.00,645.20 228.29,645.29 230.58,646.37 232.88,648.32 235.17,650.79 237.46,652.29 239.75,653.56 242.05,653.79 244.34,654.01 246.63,653.67 248.92,654.27 251.22,653.34 253.51,654.33 255.80,656.30 258.09,655.82 260.39,654.52 262.68,654.81 264.97,655.72 267.26,656.49 269.56,656.38 271.85,654.31 274.14,652.73 276.43,651.75 278.73,651.13 281.02,650.70 283.31,651.31 285.60,651.26 287.90,650.62 290.19,650.25 292.48,649.96 294.77,651.22 297.07,651.21 299.36,651.99 301.65,652.99 303.94,653.88 306.24,651.79 308.53,651.36 310.82,649.42 313.11,648.61 315.41,647.13 317.70,648.10 319.99,649.81 322.28,649.43 324.58,650.13 326.87,650.42 329.16,650.32 331.45,650.85 333.75,652.16 336.04,653.42 338.33,655.69 340.62,655.75 342.92,657.02 345.21,657.90 347.50,659.82 349.79,658.98 352.09,658.03 354.38,656.83 356.67,656.63 358.96,657.02 361.26,657.51 363.55,658.39 365.84,660.54 368.13,660.83 370.43,660.58 372.72,653.08 375.01,634.39 377.30,637.98 379.60,641.47 381.89,645.15 384.18,647.92 386.47,650.74 388.77,647.69 391.06,643.99 393.35,639.11 395.64,634.47 397.94,629.21 400.23,626.70 402.52,623.83 404.81,622.83 407.11,620.09 409.40,615.36 411.69,612.10 413.98,611.42 416.28,610.74 418.57,608.23 420.86,602.78 423.15,596.58 425.45,591.86 427.74,588.32 430.03,585.83 432.32,584.82 434.62,581.05 436.91,577.24 439.20,594.54 441.49,609.91 443.79,621.72 446.08,612.08 448.37,603.22 450.66,598.74 452.96,595.38 455.25,596.10 457.54,597.65 459.83,595.34 462.13,591.33 464.42,594.14 466.71,598.37 469.00,600.36 471.30,598.18 473.59,595.58 475.88,593.25 478.17,589.56 480.47,586.46 482.76,583.87 485.05,580.59 487.34,574.12 489.64,566.33 491.93,560.20 494.22,555.50 496.51,551.36 498.81,548.84 501.10,547.24 503.39,543.10 505.68,535.81 507.98,528.09 510.27,523.56 512.56,521.67 514.85,520.92" fill="none" stroke="#000" stroke-width="3.5" stroke-linecap="round" stroke-linejoin="round"/>
<polyline points="58.65,644.08 60.94,643.74 63.23,643.52 65.52,642.66 67.82,639.83 70.11,636.94 72.40,635.47 74.69,635.85 76.99,635.43 79.28,634.56 81.57,634.71 83.86,634.54 86.16,634.22 88.45,633.07 90.74,632.46 93.03,631.16 95.33,630.77 97.62,630.34 99.91,632.17 102.20,633.47 104.50,634.24 106.79,634.30 109.08,634.54 111.37,635.25 113.67,635.90 115.96,635.93 118.25,635.37 120.54,634.95 122.84,634.70 125.13,636.12 127.42,637.82 129.71,639.87 132.01,639.48 134.30,640.19 136.59,640.10 138.88,640.47 141.18,640.22 143.47,640.77 145.76,640.76 148.05,640.79 150.35,640.91 152.64,640.24 154.93,640.47 157.22,640.56 159.52,640.34 161.81,639.60 164.10,639.92 166.39,640.09 168.69,639.49 170.98,639.61 173.27,639.24 175.56,640.07 177.86,639.70 180.15,639.46 182.44,639.54 184.73,639.57 187.03,640.52 189.32,640.38 191.61,640.34 193.90,639.60 196.20,638.17 198.49,637.72 200.78,636.41 203.07,635.98 205.37,635.46 207.66,636.74 209.95,637.40 212.24,636.97 214.54,636.88 216.83,637.34 219.12,636.46 221.41,636.04 223.71,635.63 226.00,634.27 228.29,633.28 230.58,632.01 232.88,633.28 235.17,634.89 237.46,636.34 239.75,636.53 242.05,636.47 244.34,635.91 246.63,635.32 248.92,634.80 251.22,632.93 253.51,631.29 255.80,628.96 258.09,629.16 260.39,631.31 262.68,632.95 264.97,634.34 267.26,634.71 269.56,635.02 271.85,635.96 274.14,636.28 276.43,634.60 278.73,633.71 281.02,632.28 283.31,630.31 285.60,629.65 287.90,632.16 290.19,633.80 292.48,635.42 294.77,635.70 297.07,635.60 299.36,635.81 301.65,636.77 303.94,636.05 306.24,634.14 308.53,633.25 310.82,633.12 313.11,632.99 315.41,634.21 317.70,634.57 319.99,635.39 322.28,635.13 324.58,635.75 326.87,636.24 329.16,634.98 331.45,632.66 333.75,630.76 336.04,628.70 338.33,630.27 340.62,632.25 342.92,633.98 345.21,634.30 347.50,635.10 349.79,635.07 352.09,634.60 354.38,633.96 356.67,634.51 358.96,633.16 361.26,631.12 363.55,629.24 365.84,631.14 368.13,633.10 370.43,634.18 372.72,643.02 375.01,648.03 377.30,649.84 379.60,650.38 381.89,652.29 384.18,652.39 386.47,652.47 388.77,652.08 391.06,652.53 393.35,651.73 395.64,652.08 397.94,651.71 400.23,651.08 402.52,650.91 404.81,651.34 407.11,651.11 409.40,650.74 411.69,650.26 413.98,649.84 416.28,649.55 418.57,648.89 420.86,648.33 423.15,649.83 425.45,652.07 427.74,650.71 430.03,649.67 432.32,649.51 434.62,647.88 436.91,647.40 439.20,645.74 441.49,644.60 443.79,643.34 446.08,644.63 448.37,645.74 450.66,646.79 452.96,648.16 455.25,648.40 457.54,648.98 459.83,649.36 462.13,648.21 464.42,645.59 466.71,643.68 469.00,641.88 471.30,641.79 473.59,643.24 475.88,645.03 478.17,646.77 480.47,647.30 482.76,648.03 485.05,648.38 487.34,647.23 489.64,645.47 491.93,643.04 494.22,640.88 496.51,641.24 498.81,642.54 501.10,644.96 503.39,645.56 505.68,645.79 507.98,646.31 510.27,647.02 512.56,646.85 514.85,647.16" fill="none" stroke="#4bacc6" stroke-width="3.5" stroke-linecap="round" stroke-linejoin="round"/>
<polyline points="58.65,650.93 60.94,650.79 63.23,649.45 65.52,648.35 67.82,647.06 70.11,645.50 72.40,644.48 74.69,642.88 76.99,643.04 79.28,642.45 81.57,642.25 83.86,642.61 86.16,641.90 88.45,641.56 90.74,642.00 93.03,641.87 95.33,641.78 97.62,642.47 99.91,642.12 102.20,642.83 104.50,642.63 106.79,643.38 109.08,643.32 111.37,642.82 113.67,643.15 115.96,642.88 118.25,642.47 120.54,642.39 122.84,642.38 125.13,642.05 127.42,641.84 129.71,641.01 132.01,640.99 134.30,640.79 136.59,641.53 138.88,641.23 141.18,641.92 143.47,641.77 145.76,641.86 148.05,642.25 150.35,642.02 152.64,642.44 154.93,642.54 157.22,642.36 159.52,643.02 161.81,642.39 164.10,642.73 166.39,642.97 168.69,642.72 170.98,643.19 173.27,642.68 175.56,643.06 177.86,643.28 180.15,643.00 182.44,643.28 184.73,643.52 187.03,643.11 189.32,643.68 191.61,643.07 193.90,643.46 196.20,643.10 198.49,642.78 200.78,643.03 203.07,642.92 205.37,643.13 207.66,643.34 209.95,643.29 212.24,643.18 214.54,642.80 216.83,642.92 219.12,642.84 221.41,642.53 223.71,643.10 226.00,643.01 228.29,642.66 230.58,643.16 232.88,643.22 235.17,642.99 237.46,643.23 239.75,643.08 242.05,643.23 244.34,642.99 246.63,643.03 248.92,643.38 251.22,643.09 253.51,643.26 255.80,643.57 258.09,642.99 260.39,643.60 262.68,643.78 264.97,643.92 267.26,643.61 269.56,643.53 271.85,643.71 274.14,644.11 276.43,644.32 278.73,644.62 281.02,644.23 283.31,644.40 285.60,644.67 287.90,644.54 290.19,644.60 292.48,643.91 294.77,643.77 297.07,643.84 299.36,643.03 301.65,643.39 303.94,642.68 306.24,642.23 308.53,641.80 310.82,641.39 313.11,640.27 315.41,640.31 317.70,639.40 319.99,638.68 322.28,638.88 324.58,638.41 326.87,637.68 329.16,637.33 331.45,636.81 333.75,636.27 336.04,636.53 338.33,636.18 340.62,635.94 342.92,635.90 345.21,635.00 347.50,634.84 349.79,634.66 352.09,634.98 354.38,634.09 356.67,633.94 358.96,634.04 361.26,633.82 363.55,634.05 365.84,634.83 368.13,635.67 370.43,636.33 372.72,641.58 375.01,645.42 377.30,646.27 379.60,647.48 381.89,648.53 384.18,649.80 386.47,650.38 388.77,649.45 391.06,648.84 393.35,647.87 395.64,647.38 397.94,646.93 400.23,646.04 402.52,645.19 404.81,645.18 407.11,644.07 409.40,644.14 411.69,643.24 413.98,642.29 416.28,640.92 418.57,639.79 420.86,638.98 423.15,638.33 425.45,636.93 427.74,636.48 430.03,636.55 432.32,636.03 434.62,636.24 436.91,636.20 439.20,636.22 441.49,635.97 443.79,636.37 446.08,636.49 448.37,637.06 450.66,637.40 452.96,638.18 455.25,638.41 457.54,638.44 459.83,638.42 462.13,638.26 464.42,637.72 466.71,637.91 469.00,637.73 471.30,639.09 473.59,639.95 475.88,640.65 478.17,640.78 480.47,642.00 482.76,642.80 485.05,643.47 487.34,644.03 489.64,644.10 491.93,644.72 494.22,645.24 496.51,645.38 498.81,645.67 501.10,645.03 503.39,644.98 505.68,644.22 507.98,643.39 510.27,642.52 512.56,642.34 514.85,640.89" fill="none" stroke="#f59646" stroke-width="3.5" stroke-linecap="round" stroke-linejoin="round"/>
<line x1="34.5" y1="752" x2="62.5" y2="752" stroke="#d62b1e" stroke-width="3.6" stroke-linecap="round"/>
<text x="65.5" y="756.1" font-size="11.6" text-anchor="start" font-family='"Liberation Serif","Noto Serif CJK SC",serif' fill="#404040" textLength="166" lengthAdjust="spacing">印度尼西亚:农业贸易条件:全国</text>
<line x1="289.5" y1="752" x2="317.25" y2="752" stroke="#c0504d" stroke-width="3.6" stroke-linecap="round"/>
<text x="321" y="756.1" font-size="11.6" text-anchor="start" font-family='"Liberation Serif","Noto Serif CJK SC",serif' fill="#404040" textLength="190" lengthAdjust="spacing">印度尼西亚:农业贸易条件:粮食作物</text>
<line x1="34.5" y1="766.5" x2="62.5" y2="766.5" stroke="#9bbb59" stroke-width="3.6" stroke-linecap="round"/>
<text x="65.5" y="770.6" font-size="11.6" text-anchor="start" font-family='"Liberation Serif","Noto Serif CJK SC",serif' fill="#404040" textLength="166" lengthAdjust="spacing">印度尼西亚:农业贸易条件:园艺</text>
<line x1="289.5" y1="766.5" x2="317.25" y2="766.5" stroke="#000" stroke-width="3.6" stroke-linecap="round"/>
<text x="321" y="770.6" font-size="11.6" text-anchor="start" font-family='"Liberation Serif","Noto Serif CJK SC",serif' fill="#404040" textLength="202.5" lengthAdjust="spacing">印度尼西亚:农业贸易条件:小型种植园</text>
<line x1="34.5" y1="780.75" x2="62.5" y2="780.75" stroke="#4bacc6" stroke-width="3.6" stroke-linecap="round"/>
<text x="65.5" y="784.85" font-size="11.6" text-anchor="start" font-family='"Liberation Serif","Noto Serif CJK SC",serif' fill="#404040" textLength="178" lengthAdjust="spacing">印度尼西亚:农业贸易条件:畜牧业</text>
<line x1="289.5" y1="780.75" x2="317.25" y2="780.75" stroke="#f59646" stroke-width="3.6" stroke-linecap="round"/>
<text x="321" y="784.85" font-size="11.6" text-anchor="start" font-family='"Liberation Serif","Noto Serif CJK SC",serif' fill="#404040" textLength="166" lengthAdjust="spacing">印度尼西亚:农业贸易条件:渔业</text>
</svg>
<div class="ft"></div>
</body></html>
